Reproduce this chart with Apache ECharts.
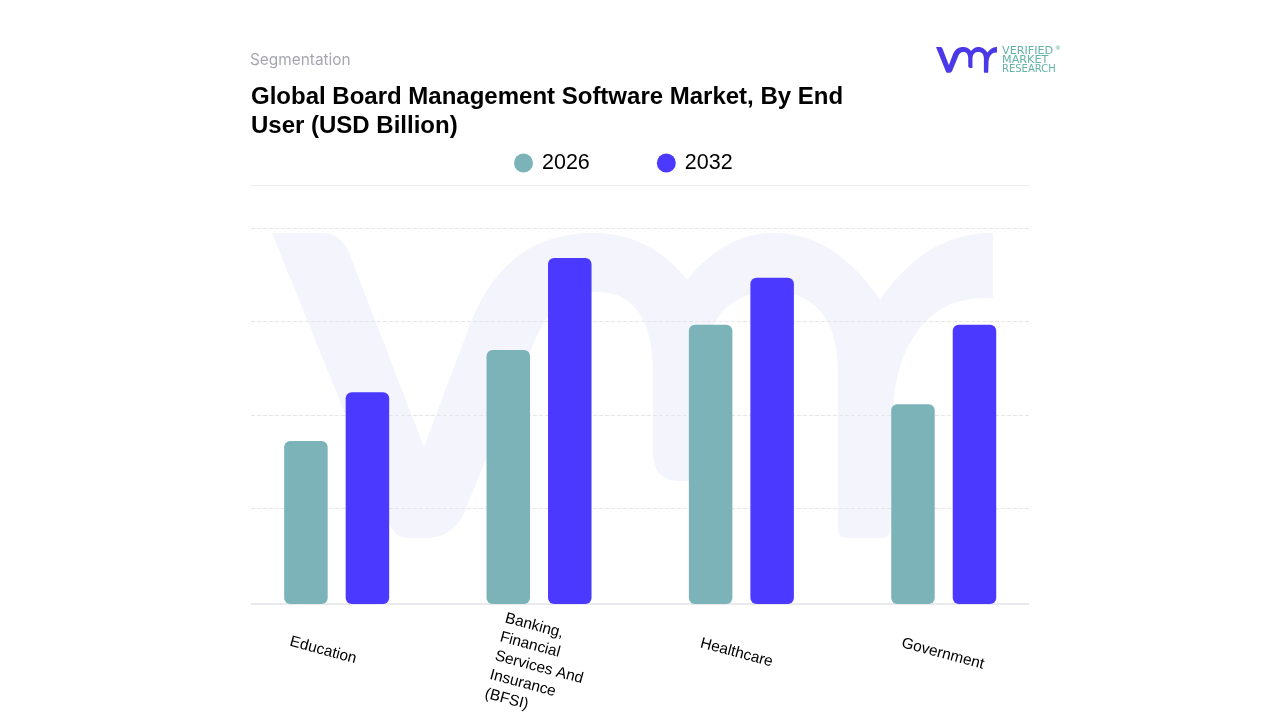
<!DOCTYPE html>
<html>
<head>
<meta charset="utf-8">
<style>html,body{margin:0;padding:0;background:#fff}#c{width:1280px;height:720px}</style>
<script src="https://cdn.jsdelivr.net/npm/echarts@6/dist/echarts.min.js"></script>
</head>
<body>
<div id="c"></div>
<script>
const categories = ['Education', 'Banking,\nFinancial\nServices And\nInsurance\n(BFSI)', 'Healthcare', 'Government'];
const series2026 = [1.74, 2.71, 2.98, 2.13];
const series2032 = [2.26, 3.69, 3.48, 2.98];
const seriesNames = ['2026', '2032'];
const seriesColors = ['#7cb3b8', '#4b39ff'];
const labelPadding = [[0, 28, 0, 0], [26, 0, 0, 7], [0, 10, 0, 0], [0, 2, 0, 0]];

// vmr brand mark outline, flattened to points and reused for the watermark and the logo
const markPath = 'M272 233 L322 233 Q343 233 351 258 L424 447 L470 325 Q490 272 530 248 Q560 233 592 233 Q650 233 687 280 Q725 233 773 233 Q835 233 880 300 Q925 233 993 233 L993 298 Q950 296 925 322 Q895 355 893 410 L890 530 Q889 538 880 538 L848 538 Q838 538 838 528 L838 375 Q838 292 773 292 Q705 292 703 375 L703 481 L680 481 Q653 481 653 452 L653 375 Q653 292 597 292 Q555 292 535 340 L466 508 Q455 538 425 538 L408 538 Q396 538 390 525 Z';
function flatten(d) {
  const p = document.createElementNS('http://www.w3.org/2000/svg', 'path');
  p.setAttribute('d', d);
  const len = p.getTotalLength(), pts = [];
  for (let s = 0; s < len; s += 1.5) { const q = p.getPointAtLength(s); pts.push([q.x, q.y]); }
  return pts;
}
const markPoints = flatten(markPath);
const logoScale = 61 / 721;

const chart = echarts.init(document.getElementById('c'), null, { renderer: 'canvas' });
const FONT = '"Liberation Sans", Arial, sans-serif';
const lineStyle = { fontFamily: FONT, fontSize: 15.4, lineHeight: 19.5, color: '#000' };
const labelStyle = Object.assign({ align: 'center', verticalAlign: 'middle', rich: { l: Object.assign({ align: 'left' }, lineStyle) } }, lineStyle);
const barBase = { type: 'bar', barWidth: 43.5, barGap: '41.4%', xAxisIndex: 0, yAxisIndex: 0 };
chart.setOption({
  animation: false,
  backgroundColor: '#ffffff',
  title: [
    { text: 'Segmentation', left: 250, top: 53, padding: 0, textStyle: { fontFamily: 'Inter', fontSize: 15.4, fontWeight: 400, color: '#a6a6b0' } },
    { text: 'Global Board Management Software Market, By End\nUser (USD Billion)', left: 251, top: 83, padding: 0,
      textStyle: { fontFamily: FONT, fontSize: 24, fontWeight: 'bold', color: '#000', lineHeight: 29 } }
  ],
  legend: {
    data: seriesNames, left: 514, top: 152, icon: 'circle', itemWidth: 19, itemHeight: 19, itemGap: 67, padding: 0,
    textStyle: { fontFamily: FONT, fontSize: 21.5, color: '#000', padding: [2, 0, 0, 4] }
  },
  grid: [
    { left: 235.5, width: 809.4, top: 229, height: 375, outerBoundsMode: 'none' },
    { left: 251, width: 778, top: 228, height: 280.5, outerBoundsMode: 'none' }
  ],
  xAxis: [
    { type: 'category', gridIndex: 0, data: categories.map((c, i) => ({ value: c, textStyle: Object.assign({ padding: labelPadding[i] }, labelStyle) })),
      axisLine: { show: false }, axisTick: { show: false }, splitLine: { show: false },
      axisLabel: { interval: 0, rotate: -15, margin: 50, hideOverlap: false, align: 'center', verticalAlign: 'middle',
        fontFamily: FONT, fontSize: 15.4, lineHeight: 19.5, color: '#000',
        formatter: v => v.indexOf('\n') < 0 ? v : v.split('\n').map(s => '{l|' + s + '}').join('\n') } },
    { type: 'category', gridIndex: 1, data: categories, axisTick: { show: false }, axisLabel: { show: false }, axisLine: { show: false } }
  ],
  yAxis: [
    { type: 'value', gridIndex: 0, min: 0, max: 4, interval: 1, axisLabel: { show: false }, axisLine: { show: false }, axisTick: { show: false }, splitLine: { show: false } },
    { type: 'value', gridIndex: 1, min: 1, max: 4, interval: 1, axisLabel: { show: false }, axisLine: { show: false }, axisTick: { show: false },
      splitLine: { show: true, lineStyle: { color: '#e6e6ea', type: 'dashed', width: 1 } } }
  ],
  series: [
    Object.assign({}, barBase, { name: seriesNames[0], data: series2026, itemStyle: { color: seriesColors[0], borderRadius: 6 } }),
    Object.assign({}, barBase, { name: seriesNames[1], data: series2032, itemStyle: { color: seriesColors[1], borderRadius: 6 } })
  ],
  graphic: { elements: [
    { type: 'polygon', z: -10, silent: true, shape: { points: markPoints }, style: { fill: '#f3f4fc' } },
    { type: 'polygon', z: 5, silent: true, x: 936 - 272 * logoScale, y: 47 - 233 * logoScale, scaleX: logoScale, scaleY: logoScale,
      shape: { points: markPoints }, style: { fill: '#4b39e8' } },
    { type: 'line', z: 1, silent: true, shape: { x1: 251, y1: 185.5, x2: 1029, y2: 185.5 }, style: { stroke: '#ececee', lineWidth: 1 } },
    { type: 'line', z: 1, silent: true, shape: { x1: 251, y1: 604, x2: 1029, y2: 604 }, style: { stroke: '#e8eaee', lineWidth: 2 } },
    { type: 'text', z: 5, x: 1002, y: 46, style: { text: 'VERIFIED', fill: '#62b3a8', font: '500 11.2px "DejaVu Sans"' } },
    { type: 'text', z: 5, x: 1002, y: 55, style: { text: 'MARKET', fill: '#62b3a8', font: '500 11.2px "DejaVu Sans"' } },
    { type: 'text', z: 5, x: 1002, y: 64.5, style: { text: 'RESEARCH', fill: '#62b3a8', font: '500 10px "DejaVu Sans"' } },
    { type: 'text', z: 5, x: 1055, y: 45, style: { text: '®', fill: '#62b3a8', font: '6px "DejaVu Sans"' } }
  ] }
});
</script>
</body>
</html>
